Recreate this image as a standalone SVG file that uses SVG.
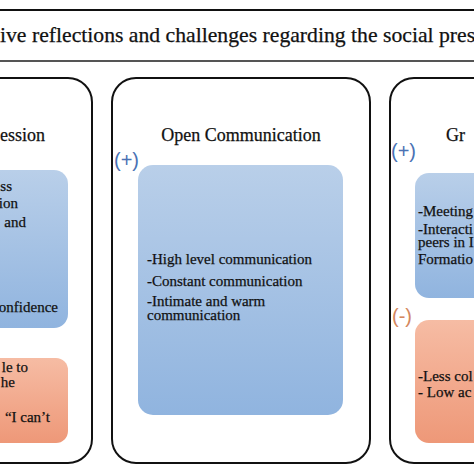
<svg xmlns="http://www.w3.org/2000/svg" width="474" height="474" viewBox="0 0 474 474">
<defs>
<linearGradient id="gBlue" x1="0" y1="0" x2="0" y2="1">
<stop offset="0" stop-color="#b9cfe9"/>
<stop offset="1" stop-color="#90b4df"/>
</linearGradient>
<linearGradient id="gOrange" x1="0" y1="0" x2="0" y2="1">
<stop offset="0" stop-color="#f6bca4"/>
<stop offset="1" stop-color="#ee9878"/>
</linearGradient>
<style>
text{font-family:"Liberation Serif","Times New Roman",serif;fill:#111;stroke:#111;stroke-width:0.25}
.title{font-size:21.7px}
.head{font-size:18px}
.item{font-size:15px}
.outer{fill:#fff;stroke:#111;stroke-width:2}
.blue{fill:url(#gBlue)}
.orange{fill:url(#gOrange)}
.plus{font-family:"Liberation Sans",Arial,sans-serif;font-size:20px;fill:#4a72b4;stroke:none}
.minus{font-family:"Liberation Sans",Arial,sans-serif;font-size:20px;fill:#d4875e;stroke:none}
</style>
</defs>
<rect width="474" height="474" fill="#fff"/>
<g id="header">
<line x1="0" y1="10" x2="474" y2="10" stroke="#111" stroke-width="2"/>
<line x1="0" y1="61" x2="474" y2="61" stroke="#555" stroke-width="2"/>
<text class="title" x="0" y="42">ive reflections and challenges regarding the social pres</text>
</g>
<g id="connectors"></g>
<g id="left">
<rect class="outer" x="-200" y="78" width="292" height="385" rx="24"/>
<text class="head" x="45" y="141" text-anchor="end">ession</text>
<rect class="blue" x="-100" y="170" width="168" height="158" rx="14"/>
<text class="item" x="12" y="191" text-anchor="end">ss</text>
<text class="item" x="18" y="208" text-anchor="end">ion</text>
<text class="item" x="26" y="227" text-anchor="end">and</text>
<text class="item" x="58" y="312" text-anchor="end">onfidence</text>
<rect class="orange" x="-100" y="358" width="168" height="85" rx="12"/>
<text class="item" x="28" y="372" text-anchor="end">le to</text>
<text class="item" x="15" y="387" text-anchor="end">he</text>
<text class="item" x="50" y="422" text-anchor="end">“I can’t</text>
</g>
<g id="middle">
<rect class="outer" x="112" y="78" width="258" height="385" rx="24"/>
<text class="head" x="241" y="141" text-anchor="middle">Open Communication</text>
<text class="plus" x="114" y="167">(+)</text>
<rect class="blue" x="138" y="165" width="205" height="250" rx="15"/>
<text class="item" x="147" y="264">-High level communication</text>
<text class="item" x="147" y="286">-Constant communication</text>
<text class="item" x="147" y="306">-Intimate and warm</text>
<text class="item" x="147" y="320">communication</text>
</g>
<g id="right">
<rect class="outer" x="390" y="78" width="300" height="385" rx="24"/>
<text class="head" x="446" y="141">Gr</text>
<text class="plus" x="391" y="158">(+)</text>
<rect class="blue" x="415" y="173" width="120" height="125" rx="14"/>
<text class="item" x="418" y="216">-Meeting</text>
<text class="item" x="418" y="234">-Interacti</text>
<text class="item" x="418" y="247">peers in I</text>
<text class="item" x="418" y="264">Formatio</text>
<text class="minus" x="392" y="323">(-)</text>
<rect class="orange" x="415" y="320" width="120" height="123" rx="14"/>
<text class="item" x="418" y="381">-Less col</text>
<text class="item" x="418" y="397">- Low ac</text>
</g>
</svg>
